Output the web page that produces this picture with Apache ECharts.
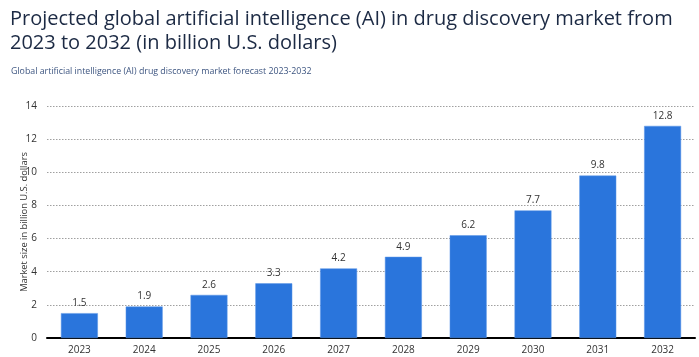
<!DOCTYPE html>
<html><head><meta charset="utf-8">
<script src="https://cdn.jsdelivr.net/npm/echarts@6/dist/echarts.min.js"></script>
<style>html,body{margin:0;padding:0;background:#fff}#c{width:699px;height:357px}</style>
</head><body><div id="c"></div>
<script>
const categories = ['2023','2024','2025','2026','2027','2028','2029','2030','2031','2032'];
const values = [1.5, 1.9, 2.6, 3.3, 4.2, 4.9, 6.2, 7.7, 9.8, 12.8];
const yTicks = [0, 2, 4, 6, 8, 10, 12, 14];
const chart = echarts.init(document.getElementById('c'));
chart.setOption({
  animation: false,
  title: [
    {text: 'Projected global artificial intelligence (AI) in drug discovery market from\n2023 to 2032 (in billion U.S. dollars)', left: 5, top: 3,
     textStyle: {fontFamily: 'Open Sans', fontWeight: 'normal', fontSize: 20, lineHeight: 23.5, color: '#1c2a44'}},
    {text: 'Global artificial intelligence (AI) drug discovery market forecast 2023-2032', left: 6, top: 62,
     textStyle: {fontFamily: 'Open Sans', fontWeight: 'normal', fontSize: 8.8, color: '#3d5580'}}
  ],
  grid: {left: 47, right: 4, top: 106, bottom: 19},
  xAxis: {type: 'category', data: categories,
    axisLine: {lineStyle: {color: '#000', width: 2}}, axisTick: {show: false},
    axisLabel: {fontFamily: 'Open Sans', fontSize: 10, color: '#333', margin: 7}},
  yAxis: {type: 'value', min: yTicks[0], max: yTicks[yTicks.length-1], interval: 2,
    name: 'Market size in billion U.S. dollars', nameLocation: 'middle', nameGap: 18, nameMoveOverlap: false,
    nameTextStyle: {fontFamily: 'Open Sans', fontSize: 9.3, color: '#333'},
    axisLabel: {fontFamily: 'Open Sans', fontSize: 10, color: '#333', margin: 10},
    splitLine: {lineStyle: {type: [1.5, 1.5], color: '#a0a0a0'}}},
  series: [{type: 'bar', data: values, barWidth: '57%',
    itemStyle: {color: '#2a75dc', borderColor: '#5d97e6', borderWidth: 0.5},
    label: {show: true, position: 'top', fontFamily: 'Open Sans', fontSize: 10, color: '#333', distance: 5}}]
});
</script></body></html>
